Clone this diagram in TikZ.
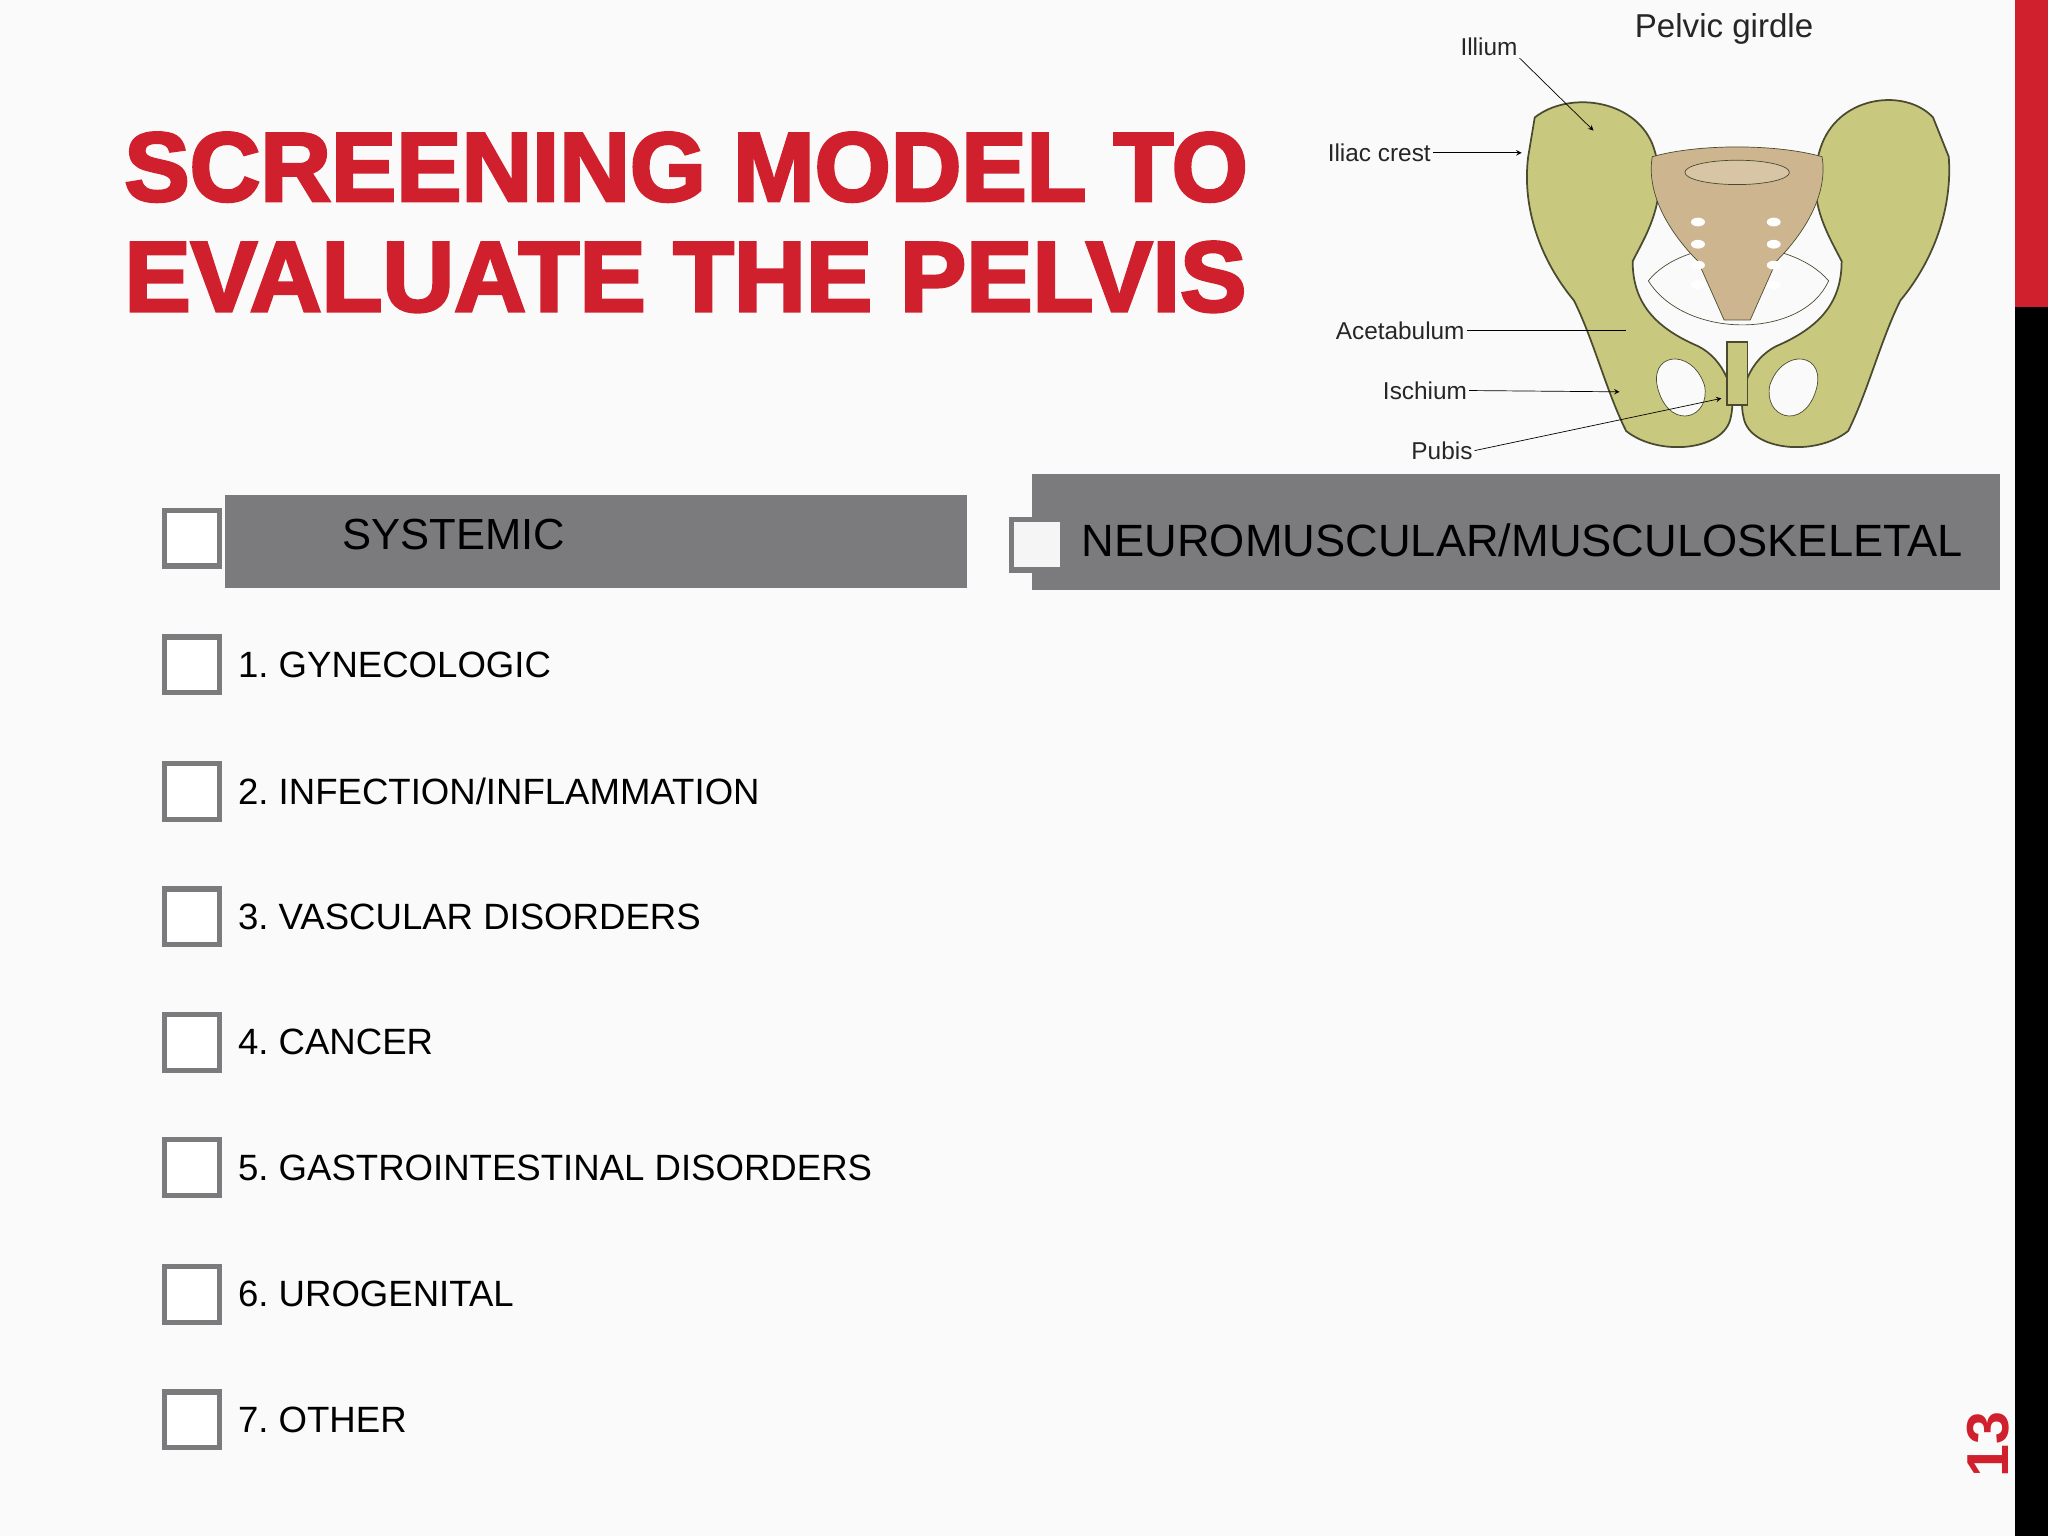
\documentclass[tikz,border=0pt]{standalone}
\usepackage{fontspec}
\usepackage{graphicx}
\setmainfont{Liberation Sans}
\newfontfamily\heavyfont[FakeBold=3]{Liberation Sans Bold}
\frenchspacing
\definecolor{tred}{HTML}{D0202E}
\definecolor{hgray}{HTML}{7B7A7C}
\definecolor{bone}{HTML}{C8C97E}
\definecolor{sac}{HTML}{CDB68F}
\definecolor{boneline}{HTML}{4A4A30}
\begin{document}
\begin{tikzpicture}[x=0.75pt,y=-0.75pt,
  cbox/.style={draw=hgray,line width=3pt,fill=white,minimum size=32pt,inner sep=0},
  item/.style={anchor=west,font=\fontsize{21}{24}\selectfont,inner sep=0},
  lab/.style={font=\fontsize{14}{16}\selectfont,inner sep=1pt,text=black!85},
  bonepart/.style={fill=bone,draw=boneline,line width=1pt}]
\useasboundingbox (0,0) rectangle (1568,1176);
\fill[white!98!black] (0,0) rectangle (1568,1176);
\fill[tred] (1543,0) rectangle (1568,235);
\fill[black] (1543,235) rectangle (1568,1176);
\node[rotate=90,text=tred,font=\bfseries\fontsize{34}{36}\selectfont] (pg) at (1522,1106) {13};
% title
\node[anchor=west,text=tred,inner sep=0] (t1) at (95,128) {\resizebox{645pt}{!}{\heavyfont SCREENING MODEL TO}};
\node[anchor=west,text=tred,inner sep=0] (t2) at (95,212) {\resizebox{644pt}{!}{\heavyfont EVALUATE THE PELVIS}};
% headers
\fill[hgray] (172,379) rectangle (740,450);
\node[cbox] (c0) at (147,412) {};
\node[item,font=\fontsize{25}{28}\selectfont] (sys) at (262,409) {SYSTEMIC};
\fill[hgray] (790,363) rectangle (1531,452);
\node[cbox,fill=white!92!gray,minimum size=29pt] (cn) at (794,417) {};
\node[item] (nm) at (828,414) {\resizebox{506pt}{!}{NEUROMUSCULAR/MUSCULOSKELETAL}};
% list
\foreach \y/\t [count=\i] in {509/{1. GYNECOLOGIC},606/{2. INFECTION/INFLAMMATION},702/{3. VASCULAR DISORDERS},798/{4. CANCER},894/{5. GASTROINTESTINAL DISORDERS},991/{6. UROGENITAL},1087/{7. OTHER}}{
  \node[cbox] (c\i) at (147,\y) {};
  \node[item] (l\i) at (182,\y) {\t};
}
% pelvis
\path[bonepart] (1175,90) .. controls (1200,70) and (1250,75) .. (1265,110)
  .. controls (1280,150) and (1260,180) .. (1250,200)
  .. controls (1250,230) and (1265,250) .. (1300,265)
  .. controls (1320,275) and (1330,300) .. (1325,320)
  .. controls (1320,345) and (1270,350) .. (1245,330)
  .. controls (1230,300) and (1220,260) .. (1205,230)
  .. controls (1180,200) and (1165,160) .. (1170,120) -- cycle;
\path[bonepart] (1480,90) .. controls (1460,68) and (1410,72) .. (1395,110)
  .. controls (1380,150) and (1400,180) .. (1410,200)
  .. controls (1410,230) and (1395,250) .. (1360,265)
  .. controls (1340,275) and (1330,300) .. (1335,320)
  .. controls (1340,345) and (1390,350) .. (1415,330)
  .. controls (1430,300) and (1440,260) .. (1455,230)
  .. controls (1480,200) and (1495,160) .. (1492,120) -- cycle;
\path[fill=white!98!black,draw=boneline] (1270,300) .. controls (1260,270) and (1295,265) .. (1305,295) .. controls (1310,320) and (1280,330) .. (1270,300) -- cycle;
\path[fill=white!98!black,draw=boneline] (1390,300) .. controls (1400,270) and (1365,265) .. (1355,295) .. controls (1350,320) and (1380,330) .. (1390,300) -- cycle;
\path[fill=white!98!black,draw=boneline] (1262,215) .. controls (1290,180) and (1370,180) .. (1400,215) .. controls (1380,260) and (1290,260) .. (1262,215) -- cycle;
\path[fill=sac,draw=boneline] (1265,120) .. controls (1300,110) and (1360,110) .. (1395,120)
  .. controls (1400,150) and (1380,180) .. (1360,200) -- (1340,245) -- (1320,245) -- (1300,200)
  .. controls (1280,180) and (1260,150) .. (1265,120) -- cycle;
\draw[boneline,fill=sac!80!white] (1330,132) ellipse (30pt and 7pt);
\foreach \yy in {170,187,203,218}{\fill[white] (1300,\yy) ellipse (4pt and 2.5pt);\fill[white] (1358,\yy) ellipse (4pt and 2.5pt);}
\path[bonepart] (1322,262) rectangle (1338,310);
% labels
\node[font=\fontsize{19}{21}\selectfont,text=black!85] (pgl) at (1320,22) {Pelvic girdle};
\node[lab] (il) at (1140,36) {Illium};
\node[lab] (ic) at (1056,117) {Iliac crest};
\node[lab] (ac) at (1072,253) {Acetabulum};
\node[lab] (is) at (1091,299) {Ischium};
\node[lab] (pu) at (1104,345) {Pubis};
\coordinate (ilT) at (1220,100);
\coordinate (icT) at (1165,117);
\coordinate (acT) at (1245,253);
\coordinate (isT) at (1240,300);
\coordinate (puT) at (1318,305);
\draw[-stealth] (il.south east) -- (ilT);
\draw[-stealth] (ic.east) -- (icT);
\draw (ac.east) -- (acT);
\draw[-stealth] (is.east) -- (isT);
\draw[-stealth] (pu.east) -- (puT);
\end{tikzpicture}
\end{document}
